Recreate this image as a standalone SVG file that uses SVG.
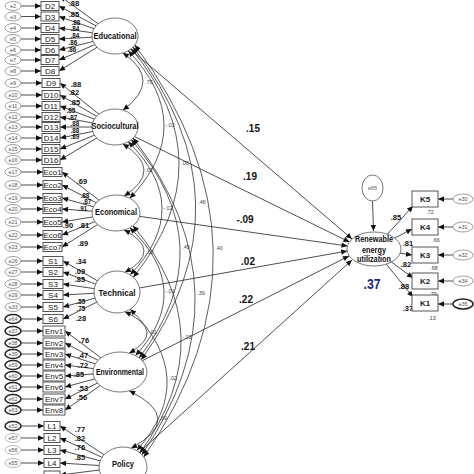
<svg xmlns="http://www.w3.org/2000/svg" width="474" height="474" viewBox="0 0 474 474">
<defs>
<marker id="ah" viewBox="0 0 10 10" refX="10" refY="5" markerWidth="7" markerHeight="6" markerUnits="userSpaceOnUse" orient="auto-start-reverse"><path d="M0,0.5 L10,5 L0,9.5 z" fill="#111"/></marker>
</defs>
<style>
.t{font-family:"Liberation Sans",Arial,sans-serif}
.a{stroke:#222;stroke-width:0.8;fill:none;marker-end:url(#ah)}
.cv{stroke:#333;stroke-width:0.8;fill:none;marker-start:url(#ah);marker-end:url(#ah)}
.lat{fill:#fff;stroke:#555;stroke-width:0.8}
.box{fill:#fff;stroke:#555;stroke-width:1}
.err{fill:#fff;stroke:#888;stroke-width:0.8}
.errd{fill:#fff;stroke:#222;stroke-width:1.5}
.errl{fill:#fff;stroke:#aaa;stroke-width:0.8}
.et{font-family:"Liberation Sans",Arial,sans-serif;font-size:5.5px;fill:#555;text-anchor:middle}
.bt{font-family:"Liberation Sans",Arial,sans-serif;font-size:8px;fill:#222;text-anchor:middle}
.ld{font-family:"Liberation Sans",Arial,sans-serif;font-size:7.5px;font-weight:bold;fill:#111;text-anchor:middle}
.ls{font-family:"Liberation Sans",Arial,sans-serif;font-size:6.3px;font-weight:bold;fill:#111;text-anchor:middle}
.sl{font-family:"Liberation Sans",Arial,sans-serif;font-size:10px;font-weight:bold;fill:#111;text-anchor:middle}
.cl{font-family:"Liberation Sans",Arial,sans-serif;font-size:5.5px;fill:#444;text-anchor:middle}
.ln{font-family:"Liberation Sans",Arial,sans-serif;font-size:9px;font-weight:bold;fill:#111}
</style>
<rect width="474" height="474" fill="#fff"/>
<g id="connectors">
<line class="a" x1="21" y1="6" x2="41" y2="6"/>
<line class="a" x1="21" y1="16.5" x2="41" y2="16.5"/>
<line class="a" x1="21" y1="28" x2="41" y2="28"/>
<line class="a" x1="21" y1="39" x2="41" y2="39"/>
<line class="a" x1="21" y1="50" x2="41" y2="50"/>
<line class="a" x1="21" y1="60" x2="41" y2="60"/>
<line class="a" x1="21" y1="71" x2="41" y2="71"/>
<line class="a" x1="21" y1="83" x2="42" y2="83"/>
<line class="a" x1="21" y1="95" x2="42" y2="95"/>
<line class="a" x1="21" y1="106" x2="42" y2="106"/>
<line class="a" x1="21" y1="117" x2="42" y2="117"/>
<line class="a" x1="21" y1="127" x2="42" y2="127"/>
<line class="a" x1="21" y1="138" x2="42" y2="138"/>
<line class="a" x1="21" y1="149" x2="42" y2="149"/>
<line class="a" x1="21" y1="160" x2="42" y2="160"/>
<line class="a" x1="21" y1="172" x2="43" y2="172"/>
<line class="a" x1="21" y1="185" x2="43" y2="185"/>
<line class="a" x1="21" y1="198" x2="43" y2="198"/>
<line class="a" x1="21" y1="209" x2="43" y2="209"/>
<line class="a" x1="21" y1="222" x2="43" y2="222"/>
<line class="a" x1="21" y1="235" x2="43" y2="235"/>
<line class="a" x1="21" y1="247" x2="43" y2="247"/>
<line class="a" x1="21" y1="261" x2="43" y2="261"/>
<line class="a" x1="21" y1="272" x2="43" y2="272"/>
<line class="a" x1="21" y1="284" x2="43" y2="284"/>
<line class="a" x1="21" y1="295" x2="43" y2="295"/>
<line class="a" x1="21" y1="307" x2="43" y2="307"/>
<line class="a" x1="21" y1="319" x2="43" y2="319"/>
<line class="a" x1="21" y1="331" x2="43" y2="331"/>
<line class="a" x1="21" y1="343" x2="43" y2="343"/>
<line class="a" x1="21" y1="354" x2="43" y2="354"/>
<line class="a" x1="21" y1="365" x2="43" y2="365"/>
<line class="a" x1="21" y1="376" x2="43" y2="376"/>
<line class="a" x1="21" y1="387" x2="43" y2="387"/>
<line class="a" x1="21" y1="399" x2="43" y2="399"/>
<line class="a" x1="21" y1="410" x2="43" y2="410"/>
<line class="a" x1="21" y1="426" x2="44" y2="426"/>
<line class="a" x1="21" y1="438" x2="44" y2="438"/>
<line class="a" x1="21" y1="450" x2="44" y2="450"/>
<line class="a" x1="21" y1="463" x2="44" y2="463"/>
<line class="a" x1="115" y1="36" x2="60" y2="-4"/>
<line class="a" x1="115" y1="36" x2="59" y2="6"/>
<line class="a" x1="115" y1="36" x2="59" y2="16.5"/>
<line class="a" x1="115" y1="36" x2="59" y2="28"/>
<line class="a" x1="115" y1="36" x2="59" y2="39"/>
<line class="a" x1="115" y1="36" x2="59" y2="50"/>
<line class="a" x1="115" y1="36" x2="59" y2="60"/>
<line class="a" x1="115" y1="36" x2="59" y2="71"/>
<line class="a" x1="115" y1="127" x2="60" y2="83"/>
<line class="a" x1="115" y1="127" x2="60" y2="95"/>
<line class="a" x1="115" y1="127" x2="60" y2="106"/>
<line class="a" x1="115" y1="127" x2="60" y2="117"/>
<line class="a" x1="115" y1="127" x2="60" y2="127"/>
<line class="a" x1="115" y1="127" x2="60" y2="138"/>
<line class="a" x1="115" y1="127" x2="60" y2="149"/>
<line class="a" x1="115" y1="127" x2="60" y2="160"/>
<line class="a" x1="116" y1="213" x2="62" y2="172"/>
<line class="a" x1="116" y1="213" x2="62" y2="185"/>
<line class="a" x1="116" y1="213" x2="62" y2="198"/>
<line class="a" x1="116" y1="213" x2="62" y2="209"/>
<line class="a" x1="116" y1="213" x2="62" y2="222"/>
<line class="a" x1="116" y1="213" x2="62" y2="235"/>
<line class="a" x1="116" y1="213" x2="62" y2="247"/>
<line class="a" x1="117" y1="292" x2="63" y2="261"/>
<line class="a" x1="117" y1="292" x2="63" y2="272"/>
<line class="a" x1="117" y1="292" x2="63" y2="284"/>
<line class="a" x1="117" y1="292" x2="63" y2="295"/>
<line class="a" x1="117" y1="292" x2="63" y2="307"/>
<line class="a" x1="117" y1="292" x2="63" y2="319"/>
<line class="a" x1="120" y1="372" x2="65" y2="331"/>
<line class="a" x1="120" y1="372" x2="65" y2="343"/>
<line class="a" x1="120" y1="372" x2="65" y2="354"/>
<line class="a" x1="120" y1="372" x2="65" y2="365"/>
<line class="a" x1="120" y1="372" x2="65" y2="376"/>
<line class="a" x1="120" y1="372" x2="65" y2="387"/>
<line class="a" x1="120" y1="372" x2="65" y2="399"/>
<line class="a" x1="120" y1="372" x2="65" y2="410"/>
<line class="a" x1="123" y1="467" x2="60" y2="426"/>
<line class="a" x1="123" y1="467" x2="60" y2="438"/>
<line class="a" x1="123" y1="467" x2="60" y2="450"/>
<line class="a" x1="123" y1="467" x2="60" y2="463"/>
<line class="a" x1="123" y1="467" x2="60" y2="475"/>
<line class="a" x1="115" y1="36" x2="352" y2="239"/>
<line class="a" x1="115" y1="127" x2="349.5" y2="242"/>
<line class="a" x1="116" y1="213" x2="347.5" y2="246"/>
<line class="a" x1="117" y1="292" x2="347.2" y2="251"/>
<line class="a" x1="120" y1="372" x2="349" y2="256"/>
<line class="a" x1="123" y1="467" x2="352" y2="260"/>
<path class="cv" d="M122.9,52.9 Q163.1,80.5 122.9,110.1"/>
<path class="cv" d="M128.2,50.7 Q199,125.5 129.8,198.3"/>
<path class="cv" d="M131.3,48.7 Q225.7,163 133.3,277.2"/>
<path class="cv" d="M133.1,47.1 Q254,202.6 141.3,359.7"/>
<path class="cv" d="M134.9,45 Q287,249 143.8,457"/>
<path class="cv" d="M122.9,143.9 Q164.4,170 124.2,196.1"/>
<path class="cv" d="M128.2,141.7 Q194.8,207.7 130.2,274.8"/>
<path class="cv" d="M131.3,139.7 Q224.8,247.2 139.1,357.9"/>
<path class="cv" d="M133.1,138.1 Q252.5,291.6 141.9,454.7"/>
<path class="cv" d="M124.2,229.9 Q163.4,250.9 124.9,272.3"/>
<path class="cv" d="M129.8,227.7 Q195.3,290.3 135.5,355.6"/>
<path class="cv" d="M133,225.7 Q225.5,334.7 140,452.9"/>
<path class="cv" d="M124.9,311.7 Q167,331.5 129.2,353.2"/>
<path class="cv" d="M130.2,309.2 Q200.5,378.1 136.8,450.6"/>
<path class="cv" d="M129.2,390.8 Q185.8,418.5 131.2,448.2"/>
<line class="a" x1="372.5" y1="201" x2="373.5" y2="231"/>
<line class="a" x1="374" y1="249" x2="413" y2="206"/>
<line class="a" x1="374" y1="249" x2="412" y2="229"/>
<line class="a" x1="374" y1="249" x2="412" y2="255"/>
<line class="a" x1="374" y1="249" x2="413" y2="278"/>
<line class="a" x1="374" y1="249" x2="413" y2="297"/>
<line class="a" x1="453" y1="199" x2="438" y2="199"/>
<line class="a" x1="453" y1="227" x2="438" y2="227"/>
<line class="a" x1="453" y1="255" x2="438" y2="255"/>
<line class="a" x1="453" y1="281" x2="438" y2="281"/>
<line class="a" x1="453" y1="304" x2="438" y2="304"/>
</g>
<g id="connector-labels">
<text class="ld" x="74" y="5.5">.88</text>
<text class="ld" x="74" y="17">.85</text>
<text class="ls" x="76" y="24.5">.88</text>
<text class="ls" x="75" y="31">.84</text>
<text class="ls" x="75" y="37.5">.84</text>
<text class="ls" x="73" y="44.5">.86</text>
<text class="ls" x="72" y="51.5">.86</text>
<text class="ld" x="76" y="87">.88</text>
<text class="ld" x="74" y="95">.82</text>
<text class="ld" x="75" y="105">.85</text>
<text class="ls" x="71" y="112.5">.85</text>
<text class="ls" x="73" y="119.5">.87</text>
<text class="ls" x="75" y="126">.88</text>
<text class="ls" x="75" y="132.5">.88</text>
<text class="ls" x="75" y="139">.89</text>
<text class="ld" x="82" y="184">.69</text>
<text class="ls" x="85" y="197.5">.88</text>
<text class="ls" x="87" y="204">.87</text>
<text class="ls" x="83" y="210.5">.91</text>
<text class="ld" x="68" y="228">.90</text>
<text class="ld" x="84" y="228">.81</text>
<text class="ld" x="83" y="246">.89</text>
<text class="ld" x="81" y="264">.34</text>
<text class="ld" x="80" y="273.5">.09</text>
<text class="ld" x="80" y="282">.85</text>
<text class="ls" x="81" y="303.5">.55</text>
<text class="ls" x="81" y="310.5">.75</text>
<text class="ld" x="81" y="321">.28</text>
<text class="ld" x="84" y="343">.76</text>
<text class="ld" x="83" y="358">.47</text>
<text class="ld" x="83" y="368">.72</text>
<text class="ld" x="79" y="377">.85</text>
<text class="ld" x="83" y="391">.53</text>
<text class="ld" x="82" y="400">.56</text>
<text class="ld" x="80" y="432">.77</text>
<text class="ld" x="80" y="441">.82</text>
<text class="ld" x="80" y="450">.76</text>
<text class="ld" x="80" y="460">.85</text>
<text class="sl" x="253" y="132">.15</text>
<text class="sl" x="250" y="180">.19</text>
<text class="sl" x="245" y="223">-.09</text>
<text class="sl" x="248" y="265">.02</text>
<text class="sl" x="246" y="303">.22</text>
<text class="sl" x="248" y="350">.21</text>
<text class="cl" x="149" y="84">.75</text>
<text class="cl" x="170" y="127">-.03</text>
<text class="cl" x="185" y="165">.00</text>
<text class="cl" x="202" y="204">.46</text>
<text class="cl" x="219" y="250">.40</text>
<text class="cl" x="149" y="172">.02</text>
<text class="cl" x="168" y="210">-.02</text>
<text class="cl" x="186" y="249">.45</text>
<text class="cl" x="201" y="295">.39</text>
<text class="cl" x="150" y="254">.02</text>
<text class="cl" x="170" y="293">-.01</text>
<text class="cl" x="187" y="339">-.02</text>
<text class="cl" x="153" y="334">.01</text>
<text class="cl" x="173" y="380">.02</text>
<text class="cl" x="163" y="420">.39</text>
<text class="ld" x="396" y="220">.85</text>
<text class="ld" x="408" y="246">.81</text>
<text class="ld" x="406" y="267">.82</text>
<text class="ld" x="404" y="289">.88</text>
<text class="ld" x="408" y="311">.37</text>
<text class="cl" x="430" y="214">.72</text>
<text class="cl" x="436" y="242">.66</text>
<text class="cl" x="434" y="270">.68</text>
<text class="cl" x="433" y="296">.79</text>
<text class="cl" x="432" y="320">.13</text>
</g>
<g id="Educational"><ellipse class="lat" cx="115" cy="36" rx="23" ry="18"/><text class="ln" x="93.5" y="38.5" textLength="43" lengthAdjust="spacingAndGlyphs">Educational</text></g>
<g id="Sociocultural"><ellipse class="lat" cx="115" cy="127" rx="23" ry="18"/><text class="ln" x="91.5" y="129" textLength="47" lengthAdjust="spacingAndGlyphs">Sociocultural</text></g>
<g id="Economical"><ellipse class="lat" cx="116" cy="213" rx="24" ry="18"/><text class="ln" x="95" y="215" textLength="42" lengthAdjust="spacingAndGlyphs">Economical</text></g>
<g id="Technical"><ellipse class="lat" cx="117" cy="292" rx="23" ry="21"/><text class="ln" x="98.5" y="295.5" textLength="37" lengthAdjust="spacingAndGlyphs">Technical</text></g>
<g id="Environmental"><ellipse class="lat" cx="120" cy="372" rx="27" ry="20"/><text class="ln" x="96" y="375" textLength="48" lengthAdjust="spacingAndGlyphs">Environmental</text></g>
<g id="Policy"><ellipse class="lat" cx="123" cy="467" rx="24" ry="20"/><text class="ln" x="112" y="466.5" textLength="22" lengthAdjust="spacingAndGlyphs">Policy</text></g>
<g id="Renewable"><ellipse class="lat" cx="374" cy="249" rx="27" ry="17"/>
<text class="ln" x="355" y="242" font-size="8.5" textLength="38" lengthAdjust="spacingAndGlyphs">Renewable</text>
<text class="ln" x="362" y="253" font-size="8.5" textLength="24" lengthAdjust="spacingAndGlyphs">energy</text>
<text class="ln" x="357" y="262" font-size="8.5" textLength="34" lengthAdjust="spacingAndGlyphs">utilization</text>
<text class="t" x="363.5" y="289" font-size="15" font-weight="bold" fill="#1b2a80" textLength="17" lengthAdjust="spacingAndGlyphs">.37</text></g>
<g id="e65"><ellipse class="lat" cx="372.5" cy="188" rx="10.5" ry="13"/><text class="et" x="372.5" y="190">e65</text></g>
<g id="K5"><rect class="box" x="412" y="191" width="26" height="16"/><text class="bt" x="425" y="202" font-weight="bold">K5</text></g>
<g id="K4"><rect class="box" x="412" y="219" width="26" height="16"/><text class="bt" x="425" y="230" font-weight="bold">K4</text></g>
<g id="K3"><rect class="box" x="412" y="247" width="26" height="16"/><text class="bt" x="425" y="258" font-weight="bold">K3</text></g>
<g id="K2"><rect class="box" x="412" y="273" width="26" height="16"/><text class="bt" x="425" y="284" font-weight="bold">K2</text></g>
<g id="K1"><rect class="box" x="412" y="295" width="26" height="16" stroke="#222"/><text class="bt" x="425" y="306" font-weight="bold">K1</text></g>
<g id="e30"><ellipse class="err" cx="463" cy="199" rx="10" ry="5"/><text class="et" x="463" y="201">e30</text></g>
<g id="e31"><ellipse class="err" cx="463" cy="227" rx="10" ry="5"/><text class="et" x="463" y="229">e31</text></g>
<g id="e32"><ellipse class="err" cx="463" cy="255" rx="10" ry="5"/><text class="et" x="463" y="257">e32</text></g>
<g id="e34"><ellipse class="err" cx="463" cy="281" rx="10" ry="5"/><text class="et" x="463" y="283">e34</text></g>
<g id="e35"><ellipse class="errd" cx="463" cy="304" rx="10" ry="5"/><text class="et" x="463" y="306" fill="#111">e35</text></g>
<g id="D2"><rect class="box" x="41" y="1.5" width="18" height="9"/><text class="bt" x="50" y="9">D2</text></g>
<g id="D3"><rect class="box" x="41" y="12" width="18" height="9"/><text class="bt" x="50" y="19.5">D3</text></g>
<g id="D4"><rect class="box" x="41" y="23.5" width="18" height="9"/><text class="bt" x="50" y="31">D4</text></g>
<g id="D5"><rect class="box" x="41" y="34.5" width="18" height="9"/><text class="bt" x="50" y="42">D5</text></g>
<g id="D6"><rect class="box" x="41" y="45.5" width="18" height="9"/><text class="bt" x="50" y="53">D6</text></g>
<g id="D7"><rect class="box" x="41" y="55.5" width="18" height="9"/><text class="bt" x="50" y="63">D7</text></g>
<g id="D8"><rect class="box" x="41" y="66.5" width="18" height="9"/><text class="bt" x="50" y="74">D8</text></g>
<g id="D9"><rect class="box" x="42" y="78.5" width="18" height="9"/><text class="bt" x="51" y="86">D9</text></g>
<g id="D10"><rect class="box" x="42" y="90.5" width="18" height="9"/><text class="bt" x="51" y="98">D10</text></g>
<g id="D11"><rect class="box" x="42" y="101.5" width="18" height="9"/><text class="bt" x="51" y="109">D11</text></g>
<g id="D12"><rect class="box" x="42" y="112.5" width="18" height="9"/><text class="bt" x="51" y="120">D12</text></g>
<g id="D13"><rect class="box" x="42" y="122.5" width="18" height="9"/><text class="bt" x="51" y="130">D13</text></g>
<g id="D14"><rect class="box" x="42" y="133.5" width="18" height="9"/><text class="bt" x="51" y="141">D14</text></g>
<g id="D15"><rect class="box" x="42" y="144.5" width="18" height="9"/><text class="bt" x="51" y="152">D15</text></g>
<g id="D16"><rect class="box" x="42" y="155.5" width="18" height="9"/><text class="bt" x="51" y="163">D16</text></g>
<g id="Eco1"><rect class="box" x="43" y="167.5" width="19" height="9"/><text class="bt" x="52.5" y="175" font-size="7.5">Eco1</text></g>
<g id="Eco2"><rect class="box" x="43" y="180.5" width="19" height="9"/><text class="bt" x="52.5" y="188" font-size="7.5">Eco2</text></g>
<g id="Eco3"><rect class="box" x="43" y="193.5" width="19" height="9"/><text class="bt" x="52.5" y="201" font-size="7.5">Eco3</text></g>
<g id="Eco4"><rect class="box" x="43" y="204.5" width="19" height="9"/><text class="bt" x="52.5" y="212" font-size="7.5">Eco4</text></g>
<g id="Eco5"><rect class="box" x="43" y="217.5" width="19" height="9"/><text class="bt" x="52.5" y="225" font-size="7.5">Eco5</text></g>
<g id="Eco6"><rect class="box" x="43" y="230.5" width="19" height="9"/><text class="bt" x="52.5" y="238" font-size="7.5">Eco6</text></g>
<g id="Eco7"><rect class="box" x="43" y="242.5" width="19" height="9"/><text class="bt" x="52.5" y="250" font-size="7.5">Eco7</text></g>
<g id="S1"><rect class="box" x="43" y="256.5" width="20" height="9"/><text class="bt" x="53" y="264">S1</text></g>
<g id="S2"><rect class="box" x="43" y="267.5" width="20" height="9"/><text class="bt" x="53" y="275">S2</text></g>
<g id="S3"><rect class="box" x="43" y="279.5" width="20" height="9"/><text class="bt" x="53" y="287">S3</text></g>
<g id="S4"><rect class="box" x="43" y="290.5" width="20" height="9"/><text class="bt" x="53" y="298">S4</text></g>
<g id="S5"><rect class="box" x="43" y="302.5" width="20" height="9"/><text class="bt" x="53" y="310">S5</text></g>
<g id="S6"><rect class="box" x="43" y="314.5" width="20" height="9"/><text class="bt" x="53" y="322">S6</text></g>
<g id="Env1"><rect class="box" x="43" y="326" width="22" height="10"/><text class="bt" x="54" y="333.5" font-size="7.5">Env1</text></g>
<g id="Env2"><rect class="box" x="43" y="338" width="22" height="10"/><text class="bt" x="54" y="345.5" font-size="7.5">Env2</text></g>
<g id="Env3"><rect class="box" x="43" y="349" width="22" height="10"/><text class="bt" x="54" y="356.5" font-size="7.5">Env3</text></g>
<g id="Env4"><rect class="box" x="43" y="360" width="22" height="10"/><text class="bt" x="54" y="367.5" font-size="7.5">Env4</text></g>
<g id="Env5"><rect class="box" x="43" y="371" width="22" height="10"/><text class="bt" x="54" y="378.5" font-size="7.5">Env5</text></g>
<g id="Env6"><rect class="box" x="43" y="382" width="22" height="10"/><text class="bt" x="54" y="389.5" font-size="7.5">Env6</text></g>
<g id="Env7"><rect class="box" x="43" y="394" width="22" height="10"/><text class="bt" x="54" y="401.5" font-size="7.5">Env7</text></g>
<g id="Env8"><rect class="box" x="43" y="405" width="22" height="10"/><text class="bt" x="54" y="412.5" font-size="7.5">Env8</text></g>
<g id="L1"><rect class="box" x="44" y="421.5" width="16" height="9" stroke="#222"/><text class="bt" x="52" y="429">L1</text></g>
<g id="L2"><rect class="box" x="44" y="433.5" width="16" height="9"/><text class="bt" x="52" y="441">L2</text></g>
<g id="L3"><rect class="box" x="44" y="445.5" width="16" height="9"/><text class="bt" x="52" y="453">L3</text></g>
<g id="L4"><rect class="box" x="44" y="458.5" width="16" height="9"/><text class="bt" x="52" y="466">L4</text></g>
<g id="L5"><rect class="box" x="44" y="471" width="16" height="9"/></g>
<g id="e2"><ellipse class="err" cx="13" cy="6" rx="8" ry="4.5"/><text class="et" x="13" y="8">e2</text></g>
<g id="e3"><ellipse class="err" cx="13" cy="16.5" rx="8" ry="4.5"/><text class="et" x="13" y="18.5">e3</text></g>
<g id="e4"><ellipse class="err" cx="13" cy="28" rx="8" ry="4.5"/><text class="et" x="13" y="30">e4</text></g>
<g id="e5"><ellipse class="err" cx="13" cy="39" rx="8" ry="4.5"/><text class="et" x="13" y="41">e5</text></g>
<g id="e6"><ellipse class="err" cx="13" cy="50" rx="8" ry="4.5"/><text class="et" x="13" y="52">e6</text></g>
<g id="e7"><ellipse class="err" cx="13" cy="60" rx="8" ry="4.5"/><text class="et" x="13" y="62">e7</text></g>
<g id="e8"><ellipse class="err" cx="13" cy="71" rx="8" ry="4.5"/><text class="et" x="13" y="73">e8</text></g>
<g id="e9"><ellipse class="err" cx="13" cy="83" rx="8" ry="4.5"/><text class="et" x="13" y="85">e9</text></g>
<g id="e10"><ellipse class="err" cx="13" cy="95" rx="8" ry="4.5"/><text class="et" x="13" y="97">e10</text></g>
<g id="e11"><ellipse class="err" cx="13" cy="106" rx="8" ry="4.5"/><text class="et" x="13" y="108">e11</text></g>
<g id="e12"><ellipse class="err" cx="13" cy="117" rx="8" ry="4.5"/><text class="et" x="13" y="119">e12</text></g>
<g id="e13"><ellipse class="err" cx="13" cy="127" rx="8" ry="4.5"/><text class="et" x="13" y="129">e13</text></g>
<g id="e14"><ellipse class="err" cx="13" cy="138" rx="8" ry="4.5"/><text class="et" x="13" y="140">e14</text></g>
<g id="e15"><ellipse class="err" cx="13" cy="149" rx="8" ry="4.5"/><text class="et" x="13" y="151">e15</text></g>
<g id="e16"><ellipse class="err" cx="13" cy="160" rx="8" ry="4.5"/><text class="et" x="13" y="162">e16</text></g>
<g id="e17"><ellipse class="err" cx="13" cy="172" rx="8" ry="4.5"/><text class="et" x="13" y="174">e17</text></g>
<g id="e18"><ellipse class="err" cx="13" cy="185" rx="8" ry="4.5"/><text class="et" x="13" y="187">e18</text></g>
<g id="e19"><ellipse class="err" cx="13" cy="198" rx="8" ry="4.5"/><text class="et" x="13" y="200">e19</text></g>
<g id="e20"><ellipse class="err" cx="13" cy="209" rx="8" ry="4.5"/><text class="et" x="13" y="211">e20</text></g>
<g id="e21"><ellipse class="err" cx="13" cy="222" rx="8" ry="4.5"/><text class="et" x="13" y="224">e21</text></g>
<g id="e22"><ellipse class="err" cx="13" cy="235" rx="8" ry="4.5"/><text class="et" x="13" y="237">e22</text></g>
<g id="e23"><ellipse class="err" cx="13" cy="247" rx="8" ry="4.5"/><text class="et" x="13" y="249">e23</text></g>
<g id="e26"><ellipse class="err" cx="13" cy="261" rx="8" ry="4.5"/><text class="et" x="13" y="263">e26</text></g>
<g id="e27"><ellipse class="err" cx="13" cy="272" rx="8" ry="4.5"/><text class="et" x="13" y="274">e27</text></g>
<g id="e28"><ellipse class="err" cx="13" cy="284" rx="8" ry="4.5"/><text class="et" x="13" y="286">e28</text></g>
<g id="e29"><ellipse class="err" cx="13" cy="295" rx="8" ry="4.5"/><text class="et" x="13" y="297">e29</text></g>
<g id="e33"><ellipse class="err" cx="13" cy="307" rx="8" ry="4.5"/><text class="et" x="13" y="309">e33</text></g>
<g id="e64"><ellipse class="errd" cx="13" cy="319" rx="8" ry="4.5"/><text class="et" x="13" y="321" fill="#111">e64</text></g>
<g id="e37"><ellipse class="errd" cx="13" cy="331" rx="8" ry="4.5"/><text class="et" x="13" y="333" fill="#111">e37</text></g>
<g id="e38"><ellipse class="errd" cx="13" cy="343" rx="8" ry="4.5"/><text class="et" x="13" y="345" fill="#111">e38</text></g>
<g id="e39"><ellipse class="errd" cx="13" cy="354" rx="8" ry="4.5"/><text class="et" x="13" y="356" fill="#111">e39</text></g>
<g id="e59"><ellipse class="errd" cx="13" cy="365" rx="8" ry="4.5"/><text class="et" x="13" y="367" fill="#111">e59</text></g>
<g id="e60"><ellipse class="errd" cx="13" cy="376" rx="8" ry="4.5"/><text class="et" x="13" y="378" fill="#111">e60</text></g>
<g id="e61"><ellipse class="errd" cx="13" cy="387" rx="8" ry="4.5"/><text class="et" x="13" y="389" fill="#111">e61</text></g>
<g id="e62"><ellipse class="errd" cx="13" cy="399" rx="8" ry="4.5"/><text class="et" x="13" y="401" fill="#111">e62</text></g>
<g id="e63"><ellipse class="errd" cx="13" cy="410" rx="8" ry="4.5"/><text class="et" x="13" y="412" fill="#111">e63</text></g>
<g id="e52"><ellipse class="errd" cx="13" cy="426" rx="8" ry="4.5" fill="#666"/><text class="et" x="13" y="428" fill="#fff">e52</text></g>
<g id="e57"><ellipse class="errl" cx="13" cy="438" rx="8" ry="4.5"/><text class="et" x="13" y="440" fill="#999">e57</text></g>
<g id="e56"><ellipse class="errl" cx="13" cy="450" rx="8" ry="4.5"/><text class="et" x="13" y="452" fill="#999">e56</text></g>
<g id="e55"><ellipse class="errl" cx="13" cy="463" rx="8" ry="4.5"/><text class="et" x="13" y="465" fill="#999">e55</text></g>
</svg>
